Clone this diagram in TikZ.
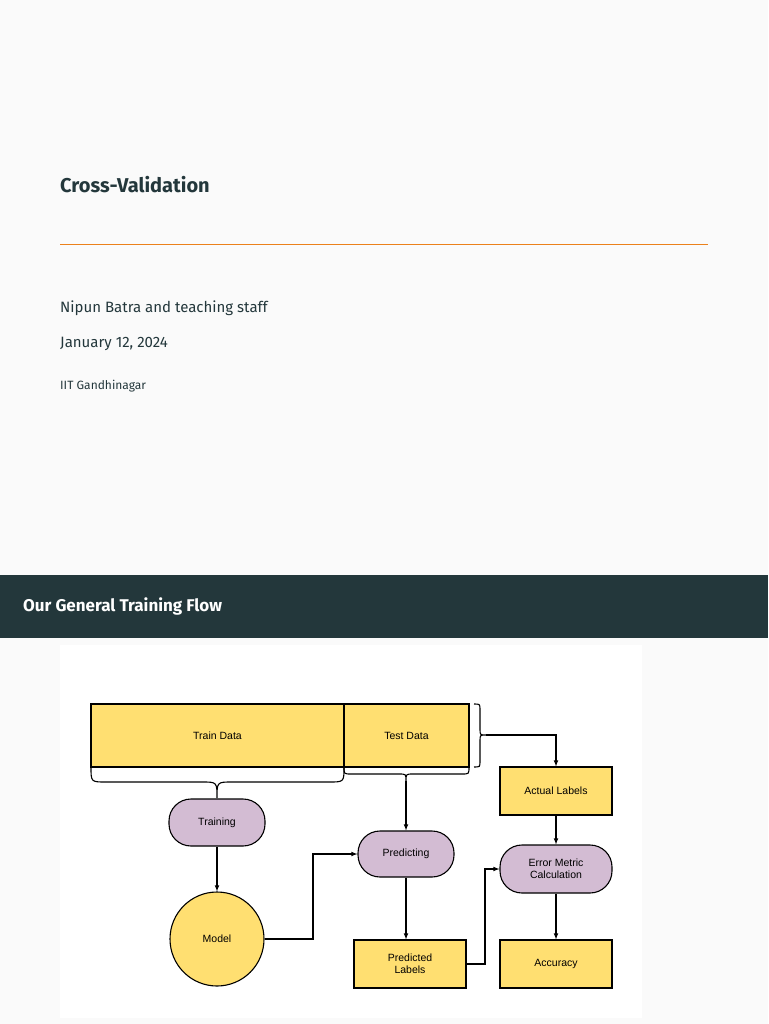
\documentclass[tikz,border=0pt]{standalone}
\usepackage{fontspec}
\setmainfont{Fira Sans}
\newfontfamily\arialf{Liberation Sans}
\begin{document}
\begin{tikzpicture}[x=1pt,y=-1pt,
  ybox/.style={draw=black,line width=1.1pt,fill=boxy,font=\arialf\fontsize{10.5}{12}\selectfont,align=center,inner sep=0},
  pbox/.style={draw=black,line width=1.1pt,fill=boxp,rounded corners=22pt,font=\arialf\fontsize{10.5}{12}\selectfont,align=center,inner sep=0},
  arr/.style={-latex,line width=1.1pt},
  brc/.style={line width=1.1pt}]
\definecolor{boxy}{HTML}{FFDF71}
\definecolor{boxp}{HTML}{D3BCD3}
\definecolor{bar}{HTML}{23373B}
\definecolor{orng}{HTML}{EB811B}
\definecolor{bg}{HTML}{FAFAFA}
\fill[bg] (0,0) rectangle (768,1024);
\useasboundingbox (0,0) rectangle (768,1024);
\node[anchor=west,text=bar,font=\fontsize{20}{24}\selectfont\bfseries,inner sep=0] (title) at (60,185) {Cross-Validation};
\draw[orng,line width=0.8pt] (60,244) -- (708,244);
\node[anchor=west,text=bar,font=\fontsize{15}{18}\selectfont,inner sep=0] (auth) at (60,308) {Nipun Batra and teaching staff};
\node[anchor=west,text=bar,font=\fontsize{15}{18}\selectfont,inner sep=0] (date) at (60,344) {January 12, 2024};
\node[anchor=west,text=bar,font=\fontsize{12}{14}\selectfont,inner sep=0] (inst) at (60,386) {IIT Gandhinagar};
\fill[bar] (0,575) rectangle (768,638);
\node[anchor=west,text=white,font=\fontsize{17}{20}\selectfont\bfseries,inner sep=0] (frame) at (23,606) {Our General Training Flow};
\fill[white] (60,645) rectangle (642,1018);
% boxes
\node[ybox,minimum width=253pt,minimum height=63pt] (train) at (217.5,735.5) {Train Data};
\node[ybox,minimum width=125pt,minimum height=63pt] (test) at (406.5,735.5) {Test Data};
\node[ybox,minimum width=112pt,minimum height=48pt] (actual) at (556,791) {Actual Labels};
\node[pbox,minimum width=96pt,minimum height=47pt] (training) at (217,822.5) {Training};
\node[draw=black,line width=1.1pt,fill=boxy,circle,minimum size=94pt,inner sep=0,font=\arialf\fontsize{10.5}{12}\selectfont] (model) at (217,939) {Model};
\node[pbox,minimum width=96pt,minimum height=46pt] (pred) at (406,854) {Predicting};
\node[ybox,minimum width=112pt,minimum height=48pt] (plab) at (410,964) {Predicted\\Labels};
\node[pbox,minimum width=112pt,minimum height=48pt] (err) at (556,869) {Error Metric\\Calculation};
\node[ybox,minimum width=112pt,minimum height=48pt] (acc) at (556,964) {Accuracy};
% braces
\draw[brc] (91,767) .. controls (91,782) .. (106,782) -- (202,782) .. controls (217,782) .. (217,798) .. controls (217,782) .. (232,782) -- (329,782) .. controls (344,782) .. (344,767);
\draw[brc] (344,767) .. controls (344,774) .. (351,774) -- (399,774) .. controls (406,774) .. (406,781) .. controls (406,774) .. (413,774) -- (462,774) .. controls (469,774) .. (469,767);
\draw[brc] (474,704) .. controls (480,704) .. (480,710) -- (480,729) .. controls (480,735) .. (486,735) .. controls (480,735) .. (480,741) -- (480,761) .. controls (480,767) .. (474,767);
\coordinate (tb) at (406,781);
\coordinate (rb) at (486,735);
% arrows
\draw[arr] (tb) -- (pred);
\draw[arr] (rb) -| (actual);
\draw[arr] (training) -- (model);
\draw[arr] (model.east) -- (313,939) |- (pred.west);
\draw[arr] (pred) -- (pred |- plab.north);
\draw[arr] (plab.east) -- (485,964) |- (err.west);
\draw[arr] (actual) -- (err);
\draw[arr] (err) -- (acc);
\end{tikzpicture}
\end{document}
